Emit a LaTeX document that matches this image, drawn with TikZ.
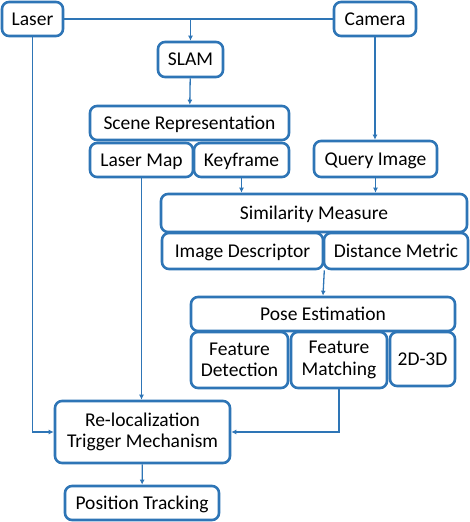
\documentclass[tikz,border=0pt]{standalone}
\usepackage{fontspec}
\setmainfont{Carlito}
\usetikzlibrary{arrows.meta}
\definecolor{boxblue}{RGB}{46,117,182}
\begin{document}
\begin{tikzpicture}[x=1pt,y=-1pt,
  blk/.style={draw=boxblue,line width=2.6pt,rounded corners=7pt,fill=white,inner sep=0pt,align=center,
    text height=13.5pt,text depth=1pt,font=\fontsize{19.5}{21.5}\selectfont},
  conn/.style={draw=boxblue,line width=1.3pt},
  arr/.style={conn,-{Latex[length=5pt,width=5pt]}}]
\useasboundingbox (0,0) rectangle (470,522);
\node[blk,minimum width=61pt,minimum height=34pt] (laser) at (32.5,19) {Laser};
\node[blk,minimum width=82pt,minimum height=34pt] (camera) at (375,19) {Camera};
\node[blk,minimum width=65pt,minimum height=35pt] (slam) at (190.5,59.5) {SLAM};
\node[blk,minimum width=199pt,minimum height=34pt] (scene) at (189.5,123) {Scene Representation};
\node[blk,minimum width=103pt,minimum height=34pt] (lmap) at (141.5,160) {Laser Map};
\node[blk,minimum width=95pt,minimum height=34pt] (keyf) at (241.5,160) {Keyframe};
\node[blk,minimum width=123pt,minimum height=36pt] (query) at (375.5,159) {Query Image};
\node[blk,minimum width=306pt,minimum height=38pt] (sim) at (314,213) {Similarity Measure};
\node[blk,minimum width=161pt,minimum height=36pt] (desc) at (242.5,251) {Image Descriptor};
\node[blk,minimum width=144pt,minimum height=36pt] (metric) at (396,251) {Distance Metric};
\node[blk,minimum width=264pt,minimum height=34pt] (pose) at (323,314) {Pose Estimation};
\node[blk,minimum width=97pt,minimum height=56pt,text height=,text depth=] (fdet) at (239.5,360) {Feature\\Detection};
\node[blk,minimum width=96pt,minimum height=56pt,text height=,text depth=] (fmat) at (339,360) {Feature\\Matching};
\node[blk,minimum width=65pt,minimum height=54pt] (twod) at (422.5,359) {2D-3D};
\node[blk,minimum width=175pt,minimum height=62pt,text height=,text depth=] (reloc) at (142.5,432) {Re-localization\\Trigger Mechanism};
\node[blk,minimum width=154pt,minimum height=34pt] (track) at (142,503) {Position Tracking};
% connectors
\coordinate (join) at (slam.north |- laser.east);
\draw[conn] (laser.east) -- (camera.west);
\draw[arr] (join) -- (slam.north);
\draw[arr] (slam) -- (scene);
\draw[arr] (camera.south) -- (camera.south |- query.north);
\draw[arr] (laser.south) |- (reloc.west);
\draw[arr] (lmap.south) -- (lmap.south |- reloc.north);
\draw[arr] (keyf.south) -- (keyf.south |- sim.north);
\draw[arr] (query.south) -- (query.south |- sim.north);
\draw[arr] (desc.south east) -- (pose.north);
\draw[arr] (fmat.south) |- (reloc.east);
\draw[arr] (reloc) -- (track);
\end{tikzpicture}
\end{document}
